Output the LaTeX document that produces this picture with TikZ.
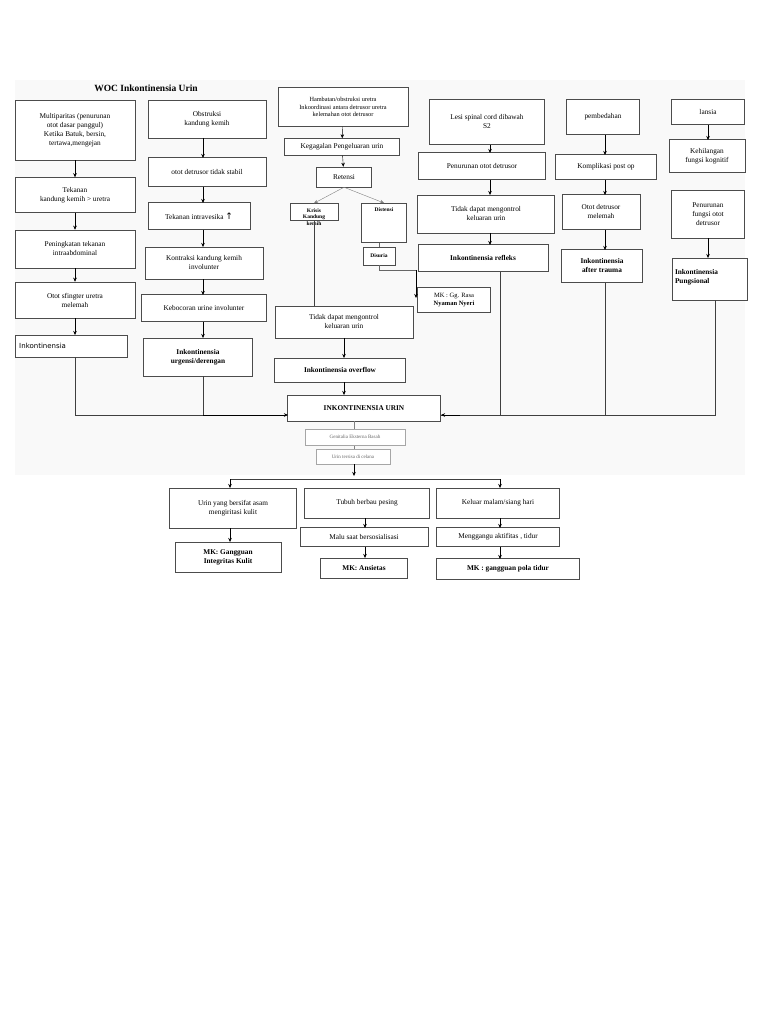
\documentclass[tikz,border=0pt]{standalone}
\usepackage{fontspec}
\setmainfont{Liberation Serif}
\newfontfamily\dvs{DejaVu Sans}
\usetikzlibrary{arrows.meta}
\begin{document}
\begin{tikzpicture}[x=1pt,y=-1pt,
 bx/.style={draw=black!70,line width=0.5pt,fill=white,font=\fontsize{7.3}{9}\selectfont,align=center,inner sep=1pt},
 bb/.style={bx,font=\fontsize{7.3}{9}\selectfont\bfseries},
 ar/.style={-{Stealth[length=4pt,width=3.5pt]},black,line width=0.4pt},
 ln/.style={draw=black!75,line width=0.9pt}]
\useasboundingbox (0,0) rectangle (768,1024);
\fill[white] (0,0) rectangle (768,1024);
\fill[gray!5] (15,80) rectangle (745,475);
\node[font=\fontsize{9.5}{10}\selectfont\bfseries] (title) at (146,88) {WOC Inkontinensia Urin};
% column 1
\node[bx,minimum width=120,minimum height=60] (a1) at (75,130) {Multiparitas (penurunan\\otot dasar panggul)\\Ketika Batuk, bersin,\\tertawa,mengejan};
\node[bx,minimum width=120,minimum height=35] (a2) at (75,195) {Tekanan\\kandung kemih > uretra};
\node[bx,minimum width=120,minimum height=38] (a3) at (75,249) {Peningkatan tekanan\\intraabdominal};
\node[bx,minimum width=120,minimum height=36] (a4) at (75,300) {Otot sfingter uretra\\melemah};
\node[bx,minimum width=112,minimum height=22,font=\dvs\fontsize{7}{8}\selectfont,anchor=north west,align=left,text width=104] (a5) at (15,335) {Inkontinensia};
\foreach \u/\v in {a1/a2,a2/a3,a3/a4} \draw[ar] (\u) -- (\v);
\draw[ar] (a4.south) -- (a4.south |- a5.north);
% column 2
\node[bx,minimum width=118,minimum height=38] (b1) at (207,119) {Obstruksi\\kandung kemih};
\node[bx,minimum width=118,minimum height=29] (b2) at (207,172) {otot detrusor tidak stabil};
\node[bx,minimum width=102,minimum height=27] (b3) at (199,216) {Tekanan intravesika {\dvs\fontsize{9}{9}\selectfont↑}};
\node[bx,minimum width=118,minimum height=32] (b4) at (204,263) {Kontraksi kandung kemih\\involunter};
\node[bx,minimum width=125,minimum height=27] (b5) at (204,308) {Kebocoran urine involunter};
\node[bb,minimum width=109,minimum height=38] (b6) at (198,357) {Inkontinensia\\urgensi/derengan};
\draw[ar] (203,138) -- (203,158);
\draw[ar] (203,187) -- (203,203);
\draw[ar] (203,230) -- (203,247);
\draw[ar] (203,279) -- (203,295);
\draw[ar] (203,322) -- (203,338);
% column 3
\node[bx,minimum width=130,minimum height=39,font=\fontsize{6.3}{7.8}\selectfont] (c1) at (343,107) {Hambatan/obstruksi uretra\\Inkoordinasi antara detrusor uretra\\kelemahan otot detrusor};
\node[bx,minimum width=115,minimum height=17] (c2) at (342,147) {Kegagalan Pengeluaran urin};
\node[bx,minimum width=55,minimum height=20] (c3) at (344,177) {Retensi};
\node[bx,minimum width=48,minimum height=17] (c4) at (314,212) {};
\node[font=\fontsize{5.5}{6.5}\selectfont\bfseries,align=center,anchor=north] (c4t) at (314,205) {Krisis\\Kandung\\kemih};
\node[bx,minimum width=45,minimum height=39,anchor=north,font=\fontsize{5.5}{6.5}\selectfont\bfseries,text depth=26] (c5) at (384,203) {Distensi};
\node[bx,minimum width=32,minimum height=18,font=\fontsize{5.5}{6.5}\selectfont\bfseries] (c6) at (379,256) {Disuria};
\node[bx,minimum width=73,minimum height=25,font=\fontsize{6.5}{7.5}\selectfont] (mk1) at (454,300) {MK : Gg. Rasa\\\textbf{Nyaman Nyeri}};
\node[bx,minimum width=138,minimum height=32] (c7) at (344,322) {Tidak dapat mengontrol\\keluaran urin};
\node[bb,minimum width=131,minimum height=24] (c8) at (340,370) {Inkontinensia overflow};
\node[bb,minimum width=153,minimum height=26] (main) at (364,408) {INKONTINENSIA URIN};
\draw[ar] (c1) -- (c2);
\draw[ar] (c2) -- (c3);
\draw[ar,draw=gray] (c3.south) -- (c4.north);
\draw[ar,draw=gray] (c3.south) -- (c5.north);
\draw[draw=black!60] (c5.south -| c6.north) -- (c6.north);
\draw[ln] (c4.south) -- (c4.south |- c7.north);
\draw[draw=black!60] (c6.south) -- ++(0,5) -| (416,270);
\draw[ar] (416,270) -- (416,298);
\draw[ar] (344,338) -- (344,358);
\draw[ar] (344,382) -- (344,395);
% column 4
\node[bx,minimum width=115,minimum height=45] (d1) at (487,122) {Lesi spinal cord dibawah\\S2};
\node[bx,minimum width=127,minimum height=27] (d2) at (482,166) {Penurunan otot detrusor};
\node[bx,minimum width=137,minimum height=38] (d3) at (486,214) {Tidak dapat mengontrol\\keluaran urin};
\node[bb,minimum width=130,minimum height=27] (d4) at (483,258) {Inkontinensia refleks};
\draw[ar] (490,145) -- (490,153);
\draw[ar] (490,180) -- (490,195);
\draw[ar] (490,233) -- (490,245);
% column 5
\node[bx,minimum width=73,minimum height=35] (e1) at (603,117) {pembedahan};
\node[bx,minimum width=101,minimum height=25] (e2) at (606,167) {Komplikasi post op};
\node[bx,minimum width=78,minimum height=35] (e3) at (601,212) {Otot detrusor\\melemah};
\node[bb,minimum width=81,minimum height=33] (e4) at (602,266) {Inkontinensia\\after trauma};
\draw[ar] (605,135) -- (605,155);
\draw[ar] (605,180) -- (605,195);
\draw[ar] (605,230) -- (605,250);
% column 6
\node[bx,minimum width=73,minimum height=25] (f1) at (708,112) {lansia};
\node[bx,minimum width=76,minimum height=33] (f2) at (707,156) {Kehilangan\\fungsi kognitif};
\node[bx,minimum width=73,minimum height=48] (f3) at (708,214) {Penurunan\\fungsi otot\\detrusor};
\node[bb,minimum width=75,minimum height=42,align=left,text width=70,text depth=14] (f4) at (710,279) {Inkontinensia\\Pungsional};
\draw[ar] (708,125) -- (708,140);
\draw[ar] (708,238) -- (708,258);
% merges
\draw[ln] (75,357) -- (75,415) -- (203,415);
\draw[ln] (203,376) -- (203,415);
\draw[ar] (203,415) -- (288,415);
\draw[ln] (500,272) -- (500,415);
\draw[ln] (605,283) -- (605,415);
\draw[ln] (715,300) -- (715,415) -- (441,415);
\draw[ar] (460,415) -- (441,415);
% below main
\draw[draw=gray] (354,421) -- (354,468);
\node[draw=gray!70,fill=white,font=\fontsize{5}{5.5}\selectfont,text=gray!80!black,minimum width=100,minimum height=16] (g0) at (355,437) {Genitalia Eksterna Basah};
\node[draw=gray!70,fill=white,font=\fontsize{5}{5.5}\selectfont,text=gray!80!black,minimum width=74,minimum height=15] (g00) at (353,457) {Urin tersisa di celana};
\draw[ar] (354,464) -- (354,476);
\draw[ln] (230,479) -- (500,479);
\node[bx,minimum width=127,minimum height=40] (g1) at (233,508) {Urin yang bersifat asam\\mengiritasi kulit};
\node[bx,minimum width=125,minimum height=30] (g2) at (367,503) {Tubuh berbau pesing};
\node[bx,minimum width=123,minimum height=30] (g3) at (498,503) {Keluar malam/siang hari};
\node[bx,minimum width=128,minimum height=19] (h2) at (364,537) {Malu saat bersosialisasi};
\node[bx,minimum width=123,minimum height=19] (h3) at (498,537) {Menggangu aktifitas , tidur};
\node[bb,minimum width=106,minimum height=30] (i1) at (228,557) {MK: Gangguan\\Integritas Kulit};
\node[bb,minimum width=87,minimum height=20] (i2) at (364,568) {MK: Ansietas};
\node[bb,minimum width=143,minimum height=21] (i3) at (508,569) {MK : gangguan pola tidur};
\draw[ar] (230,479) -- (230,488);
\draw[ar] (500,479) -- (500,488);
\draw[ar] (230,528) -- (230,542);
\draw[ar] (365,518) -- (365,528);
\draw[ar] (365,547) -- (365,558);
\draw[ar] (500,518) -- (500,528);
\draw[ar] (500,547) -- (500,559);
\end{tikzpicture}
\end{document}
